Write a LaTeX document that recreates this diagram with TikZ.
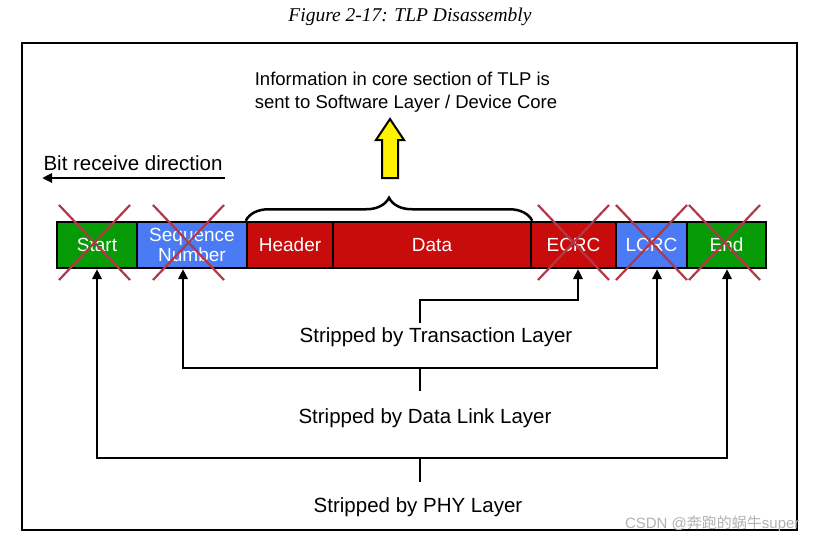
\documentclass[tikz,border=0pt]{standalone}
\usepackage{fontspec}
\setmainfont{Liberation Sans}
\newfontfamily\cjk{Noto Sans CJK SC}
\newfontfamily\serifit{Liberation Serif}
\usetikzlibrary{decorations.pathreplacing,arrows.meta}
\definecolor{grn}{HTML}{079A07}
\definecolor{blu}{HTML}{4A7BF5}
\definecolor{rd}{HTML}{C80C0C}
\definecolor{xr}{HTML}{B03848}
\begin{document}
\begin{tikzpicture}[x=1pt,y=-1pt,
  fld/.style={draw=black,line width=2.5pt,text=white,font=\fontsize{19}{20}\selectfont,align=center,inner sep=0pt},
  cross/.style={xr,line width=2.2pt},
  lbl/.style={font=\fontsize{20.5}{24}\selectfont},
  ln/.style={line width=2.5pt},
  arr/.style={ln,-{Triangle[length=10pt,width=9pt]}}]
\useasboundingbox (0,0) rectangle (817,544);
\node[font=\itshape\fontsize{19.5}{20}\selectfont\serifit] (title) at (410,17) {Figure 2-17: TLP Disassembly};
\draw[line width=1.2pt] (22,43) rectangle (797,530);
\foreach \n/\a/\b/\c/\t in {st/57/137/grn/Start,sq/137/247/blu/{Sequence\\Number},hd/247/333/rd/Header,da/333/531/rd/Data,ec/531/616/rd/ECRC,lc/616/687/blu/LCRC,en/687/766/grn/End}
  \node[fld,fill=\c,minimum width=\b-\a,minimum height=46] (\n) at ({(\a+\b)/2},245) {\t};
\foreach \a in {59,153,538,616,689}
  \draw[cross] (\a,205) -- (\a+71,280) (\a+71,205) -- (\a,280);
\draw[ln,decorate,decoration={brace,amplitude=23pt}] (hd.north west) -- (da.north east) coordinate[midway] (bm);
\draw[black,fill=yellow,line width=2pt,line join=miter] (382,178) -- (382,140) -- (376,140) -- (390,119) -- (404,140) -- (398,140) -- (398,178) -- cycle;
\node[font=\fontsize{18.5}{23}\selectfont,align=left] (info) at (406,92) {Information in core section of TLP is\\sent to Software Layer / Device Core};
\node[lbl] (brd) at (133,163) {Bit receive direction};
\coordinate (b1) at (225,178); \coordinate (b2) at (42,178);
\draw[arr] (b1) -- (b2);
\node[lbl] (tl) at (436,337) {Stripped by Transaction Layer};
\node[lbl] (dl) at (425,418) {Stripped by Data Link Layer};
\node[lbl] (pl) at (418,507) {Stripped by PHY Layer};
\draw[arr] (420,323) -- (420,300) -| (578,269);
\draw[ln] (420,391) -- (420,368);
\draw[arr] (183,368) -- (183,269);
\draw[arr] (182,368) -- (657,368) -- (657,269);
\draw[ln] (420,482) -- (420,458);
\draw[arr] (97,458) -- (97,269);
\draw[arr] (96,458) -- (727,458) -- (727,269);
\node[text=gray!60,font=\fontsize{15}{18}\selectfont,anchor=east] (wm) at (803,524) {CSDN @{\cjk 奔跑的蜗牛}super};
\end{tikzpicture}
\end{document}
